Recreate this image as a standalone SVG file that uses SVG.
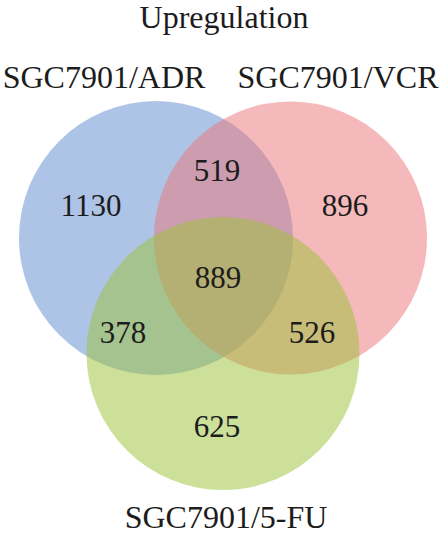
<svg xmlns="http://www.w3.org/2000/svg" width="441" height="540" viewBox="0 0 441 540">
<style>
text{font-family:"Liberation Serif","Times New Roman",serif;fill:#1c1c1c;text-anchor:middle}
.lbl{font-size:32px}
.num{font-size:31px}
.c{opacity:0.5}
</style>
<rect width="441" height="540" fill="#ffffff"/>
<g id="sets">
<g id="set-adr"><circle class="c" cx="156" cy="238" r="137" fill="#5d89cd"/></g>
<g id="set-vcr"><circle class="c" cx="290.5" cy="238" r="136.5" fill="#eb7377"/></g>
<g id="set-5fu"><circle class="c" cx="223" cy="353.5" r="136.5" fill="#9bc135"/></g>
</g>
<g id="connectors"/>
<g id="labels">
<text id="title" class="lbl" x="224" y="28">Upregulation</text>
<text id="label-adr" class="lbl" x="104" y="88">SGC7901/ADR</text>
<text id="label-vcr" class="lbl" x="338" y="88">SGC7901/VCR</text>
<text id="label-5fu" class="lbl" x="226" y="528">SGC7901/5-FU</text>
</g>
<g id="counts">
<text class="num" x="91" y="216">1130</text>
<text class="num" x="217" y="181">519</text>
<text class="num" x="345" y="216">896</text>
<text class="num" x="218" y="288">889</text>
<text class="num" x="123" y="343">378</text>
<text class="num" x="312" y="343">526</text>
<text class="num" x="217" y="437">625</text>
</g>
</svg>
